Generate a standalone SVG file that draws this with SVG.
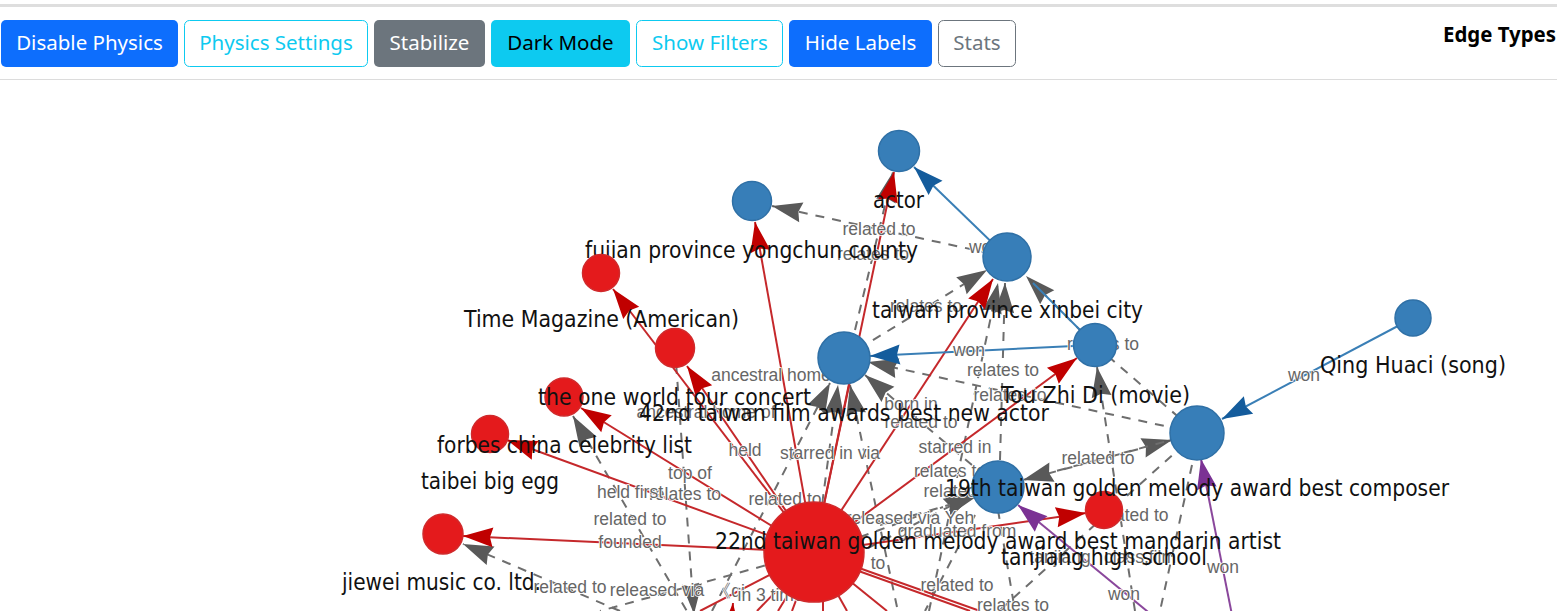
<svg xmlns="http://www.w3.org/2000/svg" width="1557" height="611" viewBox="0 0 1557 611">
<style>
.btn{font-family:"Noto Sans","Open Sans",sans-serif;font-size:20.500px;text-anchor:middle}
.e{fill:none;stroke-width:2}
.r{stroke:#c5282b;marker-end:url(#mr)}
.r0{stroke:#c5282b}
.g{stroke:#6e6e6e;stroke-dasharray:9 8;marker-end:url(#mg)}
.g0{stroke:#6e6e6e;stroke-dasharray:9 8}
.b{stroke:#3a7fb6;marker-end:url(#mb)}
.p{stroke:#8a479c;marker-end:url(#mp)}
.el text{font-family:"Liberation Sans",Arial,sans-serif;font-size:17.500px;fill:#666;text-anchor:middle;paint-order:stroke;stroke:#fff;stroke-width:1.500px}
.nr{fill:#e41a1c;stroke:#d02a2c;stroke-width:1.500}
.nb{fill:#377eb8;stroke:#2f70a6;stroke-width:1.500}
.nl{font-family:"DejaVu Sans",Tahoma,sans-serif;font-size:23px;fill:#111}
</style>
<defs>
<marker id="mr" markerUnits="userSpaceOnUse" markerWidth="34" markerHeight="26" refX="32" refY="13" orient="auto"><path d="M32,13L2,3L5,13L2,23Z" fill="#c00000"/></marker>
<marker id="mg" markerUnits="userSpaceOnUse" markerWidth="34" markerHeight="26" refX="32" refY="13" orient="auto"><path d="M32,13L2,3L5,13L2,23Z" fill="#595959"/></marker>
<marker id="mb" markerUnits="userSpaceOnUse" markerWidth="34" markerHeight="26" refX="32" refY="13" orient="auto"><path d="M32,13L2,3L5,13L2,23Z" fill="#145c9c"/></marker>
<marker id="mp" markerUnits="userSpaceOnUse" markerWidth="34" markerHeight="26" refX="32" refY="13" orient="auto"><path d="M32,13L2,3L5,13L2,23Z" fill="#7b3294"/></marker>
</defs>
<rect width="1557" height="611" fill="#fff"/>
<rect x="0" y="4" width="1557" height="3" fill="#dedede"/>
<rect x="0" y="79" width="1557" height="1" fill="#dcdcdc"/>
<g id="toolbar">
<g id="btn-disable-physics"><rect x="1" y="20" width="177" height="47" rx="5" fill="#0d6efd"/><text class="btn" x="89.500" y="50" fill="#fff">Disable Physics</text></g>
<g id="btn-physics-settings"><rect x="184.500" y="20.500" width="183" height="46" rx="5" fill="#fff" stroke="#0dcaf0"/><text class="btn" x="276" y="50" fill="#0dcaf0">Physics Settings</text></g>
<g id="btn-stabilize"><rect x="374" y="20" width="111" height="47" rx="5" fill="#6c757d"/><text class="btn" x="429.500" y="50" fill="#fff">Stabilize</text></g>
<g id="btn-dark-mode"><rect x="491" y="20" width="139" height="47" rx="5" fill="#0dcaf0"/><text class="btn" x="560.500" y="50" fill="#000">Dark Mode</text></g>
<g id="btn-show-filters"><rect x="636.500" y="20.500" width="146" height="46" rx="5" fill="#fff" stroke="#0dcaf0"/><text class="btn" x="710" y="50" fill="#0dcaf0">Show Filters</text></g>
<g id="btn-hide-labels"><rect x="789" y="20" width="143" height="47" rx="5" fill="#0d6efd"/><text class="btn" x="860.500" y="50" fill="#fff">Hide Labels</text></g>
<g id="btn-stats"><rect x="938.500" y="20.500" width="77" height="46" rx="5" fill="#fff" stroke="#6c757d"/><text class="btn" x="977" y="50" fill="#6c757d">Stats</text></g>
<text id="edge-types" x="1443" y="42" font-family="'Noto Sans','Open Sans',sans-serif" font-size="20.500" font-weight="700" fill="#000" textLength="113" lengthAdjust="spacingAndGlyphs">Edge Types</text>
</g>
<g id="connectors">
<g class="e">
<path class="g" d="M1007,257L772,206"/>
<path class="g" d="M844,358L987,270"/>
<path class="g" d="M1000,460L1005,283"/>
<path class="g" d="M929,611L998,283"/>
<path class="g" d="M1095,345L1026,276"/>
<path class="g" d="M1197,433L868,362"/>
<path class="g" d="M712,611L830,383"/>
<path class="g" d="M820,520L838,385"/>
<path class="g" d="M897,607L850,385"/>
<path class="g" d="M998,487L865,375"/>
<path class="g" d="M998,487L1172,440"/>
<path class="g" d="M1197,433L1023,480"/>
<path class="g" d="M868,548L974,494"/>
<path class="g" d="M880,525L976,497"/>
<path class="g" d="M855,330L893,172"/>
<path class="g" d="M695,625L573,416"/>
<path class="g" d="M620,611L463,544"/>
<path class="g" d="M675,348L694,614"/>
<path class="g" d="M1135,611L1097,367"/>
<path class="g0" d="M1197,433L1000,610"/>
<path class="g0" d="M1192,465L1160,611"/>
<path class="g0" d="M1095,345L1197,433"/>
<path class="g0" d="M814,552L600,611"/>
<path class="g0" d="M998,510L1015,611"/>
<path class="g0" d="M975,515L925,611"/>
<path class="g0" d="M860,537L943,507"/>
<path class="r" d="M814,552L755,222"/>
<path class="r" d="M814,552L894,172"/>
<path class="r" d="M814,552L613,289"/>
<path class="r" d="M814,552L687,366"/>
<path class="r" d="M814,552L581,408"/>
<path class="r" d="M814,552L507,440"/>
<path class="r" d="M814,552L463,536"/>
<path class="r0" d="M814,552L849,384"/>
<path class="r" d="M814,552L993,279"/>
<path class="r" d="M814,552L1077,358"/>
<path class="r" d="M814,552L1086,513"/>
<path class="r0" d="M814,552L980,611"/>
<path class="r0" d="M814,555L970,611"/>
<path class="r0" d="M814,552L887,611"/>
<path class="r0" d="M814,552L847,611"/>
<path class="r0" d="M823,552L823,611"/>
<path class="r0" d="M814,552L792,611"/>
<path class="r0" d="M814,552L778,611"/>
<path class="r0" d="M814,552L757,611"/>
<path class="r0" d="M814,552L700,611"/>
<path class="r" d="M730,640L733,603"/>
<path class="b" d="M1007,257L914,167"/>
<path class="b" d="M1095,345L870,356"/>
<path class="b" d="M1413,318L1222,419"/>
<path stroke="#3a7fb6" d="M1095,345L1033,283"/>
<path class="p" d="M1170,630L1018,505"/>
<path class="p" d="M1235,630L1201,459"/>
</g>
<g class="el">
<text x="879" y="235">related to</text>
<text x="873" y="260">relates to</text>
<text x="985" y="253">won</text>
<text x="926" y="312">relates to</text>
<text x="969" y="356">won</text>
<text x="1103" y="350">relates to</text>
<text x="1003" y="376">relates to</text>
<text x="1010" y="401">related to</text>
<text x="771" y="381">ancestral home</text>
<text x="706" y="418">ancestral home of</text>
<text x="745" y="456">held</text>
<text x="830" y="459">starred in via</text>
<text x="911" y="410">born in</text>
<text x="921" y="428">related to</text>
<text x="955" y="453">starred in</text>
<text x="950" y="477">relates to</text>
<text x="1098" y="464">related to</text>
<text x="960" y="497">related to</text>
<text x="910" y="524">released via Yeh</text>
<text x="957" y="537">graduated from</text>
<text x="1132" y="521">related to</text>
<text x="878" y="569">to</text>
<text x="957" y="591">related to</text>
<text x="1013" y="611">relates to</text>
<text x="1124" y="600">won</text>
<text x="1223" y="573">won</text>
<text x="1304" y="381">won</text>
<text x="690" y="479">top of</text>
<text x="685" y="500">relates to</text>
<text x="630" y="498">held first</text>
<text x="630" y="525">related to</text>
<text x="630" y="548">founded</text>
<text x="570" y="593">related to</text>
<text x="657" y="596">released via</text>
<text x="729" y="597">《qi</text>
<text x="775" y="601">in 3 times</text>
<text x="785" y="505">related to</text>
<text x="1060" y="563">tanjiang</text>
<text x="1140" y="563">class,film</text>
</g>
</g>
<g id="n-actor"><circle class="nb" cx="899" cy="151" r="20.500"/><text class="nl" x="873" y="208" textLength="51" lengthAdjust="spacingAndGlyphs">actor</text></g>
<g id="n-fujian"><circle class="nb" cx="752" cy="201" r="19.500"/><text class="nl" x="585" y="258" textLength="333" lengthAdjust="spacingAndGlyphs">fujian province yongchun county</text></g>
<g id="n-xinbei"><circle class="nb" cx="1007" cy="257" r="24"/><text class="nl" x="872" y="318" textLength="271" lengthAdjust="spacingAndGlyphs">taiwan province xinbei city</text></g>
<g id="n-time"><circle class="nr" cx="601" cy="273" r="18.500"/><text class="nl" x="464" y="327" textLength="275" lengthAdjust="spacingAndGlyphs">Time Magazine (American)</text></g>
<g id="n-qing"><circle class="nb" cx="1413" cy="318" r="18"/><text class="nl" x="1320" y="373" textLength="186" lengthAdjust="spacingAndGlyphs">Qing Huaci (song)</text></g>
<g id="n-touzhi"><circle class="nb" cx="1095" cy="345" r="21.500"/><text class="nl" x="1001" y="403" textLength="189" lengthAdjust="spacingAndGlyphs">Tou Zhi Di (movie)</text></g>
<g id="n-ancestral"><circle class="nr" cx="675" cy="348" r="19.500"/></g>
<g id="n-oneworld"><circle class="nr" cx="564" cy="397" r="19"/><text class="nl" x="538" y="405" textLength="273" lengthAdjust="spacingAndGlyphs">the one world tour concert</text></g>
<g id="n-42nd"><circle class="nb" cx="844" cy="358" r="26"/><text class="nl" x="639" y="421" textLength="410" lengthAdjust="spacingAndGlyphs">42nd taiwan film awards best new actor</text></g>
<g id="n-forbes"><circle class="nr" cx="490" cy="434" r="18.500"/><text class="nl" x="437" y="453" textLength="255" lengthAdjust="spacingAndGlyphs">forbes china celebrity list</text></g>
<g id="n-composer-hub"><circle class="nb" cx="1197" cy="433" r="27"/></g>
<g id="n-tanjiang"><circle class="nr" cx="1104" cy="510" r="18.500"/><text class="nl" x="1001" y="565" textLength="206" lengthAdjust="spacingAndGlyphs">tanjiang high school</text></g>
<g id="n-19th"><circle class="nb" cx="998" cy="487" r="26"/><text class="nl" x="945" y="496" textLength="504" lengthAdjust="spacingAndGlyphs">19th taiwan golden melody award best composer</text></g>
<g id="n-jiewei"><circle class="nr" cx="443" cy="534" r="20"/><text class="nl" x="421" y="489" textLength="138" lengthAdjust="spacingAndGlyphs">taibei big egg</text><text class="nl" x="342" y="590" textLength="199" lengthAdjust="spacingAndGlyphs">jiewei music co. ltd.</text></g>
<g id="n-22nd"><circle class="nr" cx="814" cy="552" r="50"/><text class="nl" x="715" y="549" textLength="566" lengthAdjust="spacingAndGlyphs">22nd taiwan golden melody award best mandarin artist</text></g>
</svg>
